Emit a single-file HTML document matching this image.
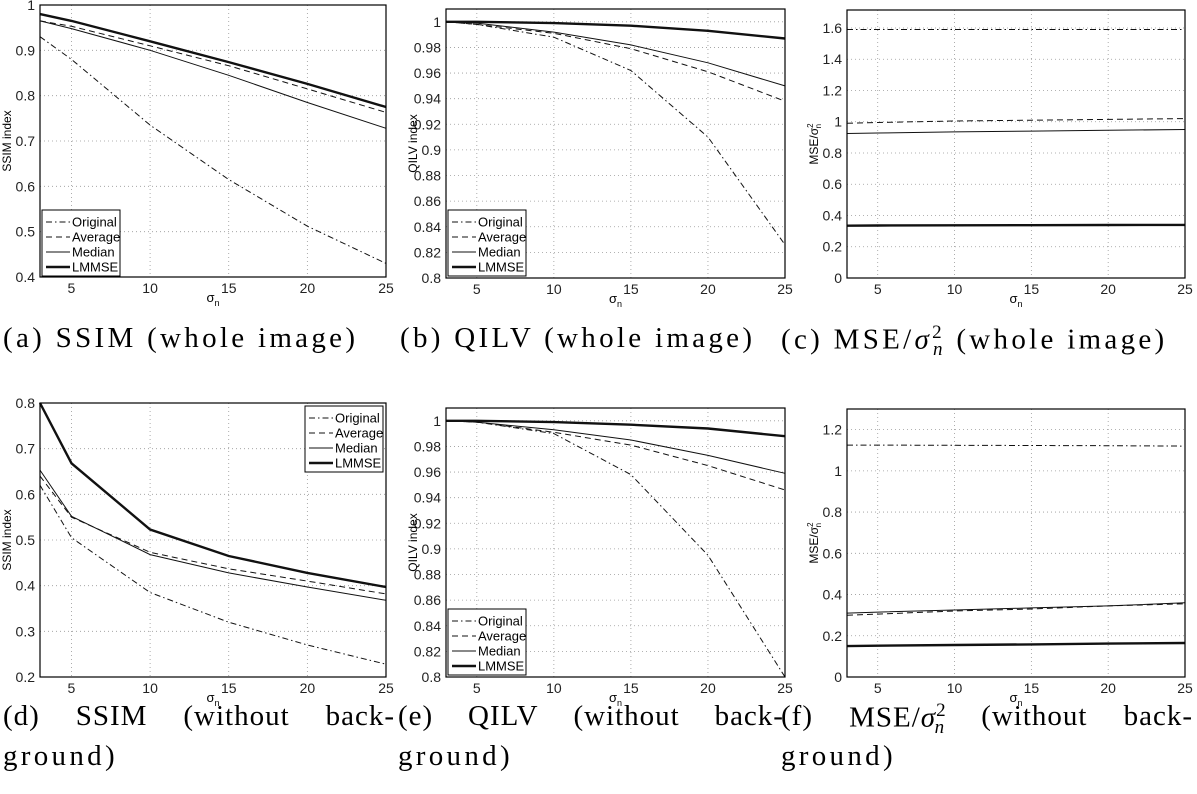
<!DOCTYPE html>
<html><head><meta charset="utf-8">
<style>
body{margin:0;background:#fff;width:1197px;height:794px;overflow:hidden;position:relative;font-family:"Liberation Sans",sans-serif}
svg{position:absolute;left:0;top:0}
.cap{position:absolute;font-family:"Liberation Serif",serif;font-size:29px;letter-spacing:3.3px;color:#000;white-space:nowrap}
.just{display:flex;justify-content:space-between;letter-spacing:1px}
</style></head><body>
<svg id="chart" width="1197" height="794"></svg>
<div class="cap" style="left:3px;top:322px">(a) SSIM (whole image)</div>
<div class="cap" style="left:400px;top:322px">(b) QILV (whole image)</div>
<div class="cap" style="left:781px;top:322px">(c) MSE/<i>σ</i><sup style="font-size:19px">2</sup><sub style="font-size:19px;margin-left:-12px"><i>n</i></sub> (whole image)</div>
<div class="cap just" style="left:3px;top:700px;width:392px"><span>(d)</span><span>SSIM</span><span>(without</span><span>back-</span></div>
<div class="cap" style="left:3px;top:740px">ground)</div>
<div class="cap just" style="left:398px;top:700px;width:386px"><span>(e)</span><span>QILV</span><span>(without</span><span>back-</span></div>
<div class="cap" style="left:398px;top:740px">ground)</div>
<div class="cap just" style="left:781px;top:700px;width:412px"><span>(f)</span><span>MSE/<i>σ</i><sup style="font-size:19px">2</sup><sub style="font-size:19px;margin-left:-12px"><i>n</i></sub></span><span>(without</span><span>back-</span></div>
<div class="cap" style="left:781px;top:740px">ground)</div>
<script>
const sigma = [3,5,10,15,20,25];
const seriesNames = ["Original","Average","Median","LMMSE"];
const xTicks = [5,10,15,20,25];
// (a)
const aOriginal = [0.93,0.88,0.735,0.615,0.512,0.43];
const aAverage  = [0.965,0.953,0.91,0.866,0.815,0.763];
const aMedian   = [0.965,0.948,0.9,0.845,0.785,0.728];
const aLmmse    = [0.98,0.965,0.92,0.874,0.826,0.775];
const aTicks = [0.4,0.5,0.6,0.7,0.8,0.9,1];
// (b)
const bOriginal = [1.0,0.998,0.988,0.962,0.91,0.826];
const bAverage  = [1.0,0.998,0.991,0.979,0.961,0.938];
const bMedian   = [1.0,0.999,0.992,0.982,0.968,0.95];
const bLmmse    = [1.0,1.0,0.999,0.997,0.993,0.987];
const bTicks = [0.8,0.82,0.84,0.86,0.88,0.9,0.92,0.94,0.96,0.98,1];
// (c)
const cOriginal = [1.59,1.59,1.59,1.59,1.59,1.59];
const cAverage  = [0.99,0.995,1.005,1.01,1.015,1.02];
const cMedian   = [0.925,0.928,0.935,0.94,0.945,0.95];
const cLmmse    = [0.335,0.336,0.337,0.338,0.339,0.34];
const cTicks = [0,0.2,0.4,0.6,0.8,1,1.2,1.4,1.6];
// (d)
const dOriginal = [0.62,0.505,0.385,0.32,0.27,0.228];
const dAverage  = [0.64,0.55,0.473,0.437,0.41,0.382];
const dMedian   = [0.653,0.552,0.468,0.428,0.397,0.368];
const dLmmse    = [0.8,0.668,0.523,0.465,0.428,0.397];
const dTicks = [0.2,0.3,0.4,0.5,0.6,0.7,0.8];
// (e)
const eOriginal = [1.0,0.999,0.99,0.958,0.895,0.8];
const eAverage  = [1.0,0.999,0.991,0.981,0.965,0.946];
const eMedian   = [1.0,0.999,0.993,0.985,0.973,0.959];
const eLmmse    = [1.0,1.0,0.999,0.997,0.994,0.988];
const eTicks = bTicks;
// (f)
const fOriginal = [1.125,1.125,1.124,1.123,1.122,1.12];
const fAverage  = [0.3,0.305,0.32,0.33,0.345,0.355];
const fMedian   = [0.31,0.315,0.325,0.335,0.345,0.36];
const fLmmse    = [0.15,0.152,0.155,0.158,0.162,0.165];
const fTicks = [0,0.2,0.4,0.6,0.8,1,1.2];

const NS="http://www.w3.org/2000/svg";
const svg=document.getElementById('chart');
function mk(tag,attrs,parent){const e=document.createElementNS(NS,tag);for(const k in attrs)e.setAttribute(k,attrs[k]);(parent||svg).appendChild(e);return e;}
const styles=[{d:"6,3,1.5,3",w:1},{d:"6,4",w:1},{d:"",w:1},{d:"",w:2.4}];

function panel(id,box,ymin,ymax,yTicks,ylabel,data,legend){
  const g=mk('g',{});
  
  
  const xS=v=>box.l+(v-3)/(25-3)*(box.r-box.l);
  const yS=v=>box.b-(v-ymin)/(ymax-ymin)*(box.b-box.t);
  xTicks.forEach(t=>{
    const x=xS(t);
    const gl=mk('line',{x1:x,x2:x,y1:box.t,y2:box.b,stroke:'#999','stroke-width':0.8,'stroke-dasharray':'1,3'},g);
    
    
    const tx=mk('text',{x:x,y:box.b+16,'font-size':14,'text-anchor':'middle',fill:'#222'},g);
    tx.textContent=t;
    
    
  });
  yTicks.forEach(t=>{
    const y=yS(t);
    const gl=mk('line',{x1:box.l,x2:box.r,y1:y,y2:y,stroke:'#999','stroke-width':0.8,'stroke-dasharray':'1,3'},g);
    
    
    const tx=mk('text',{x:box.l-5,y:y+5,'font-size':14,'text-anchor':'end',fill:'#222'},g);
    tx.textContent=String(t);
    
    
  });
  data.forEach((arr,i)=>{
    const pts=arr.map((v,j)=>xS(sigma[j]).toFixed(1)+','+yS(v).toFixed(1)).join(' ');
    const p=mk('polyline',{points:pts,fill:'none',stroke:'#111','stroke-width':styles[i].w,'stroke-dasharray':styles[i].d},g);
    
    
  });
  const fr=mk('rect',{x:box.l,y:box.t,width:box.r-box.l,height:box.b-box.t,fill:'none',stroke:'#000','stroke-width':1.2},g);
  
  
  const xl=mk('text',{x:(box.l+box.r)/2,y:box.b+25,'font-size':13,'text-anchor':'middle'},g);
  xl.innerHTML='σ<tspan font-size="9" dy="4">n</tspan>';
  
  
  const cy=(box.t+box.b)/2, lx=box.l-29;
  const yl=mk('text',{x:lx,y:cy,'font-size':12,'text-anchor':'middle',transform:`rotate(-90 ${lx} ${cy})`},g);
  yl.innerHTML=ylabel;
  
  
  if(legend){
    const lg=mk('g',{},g);
    
    
    mk('rect',{x:legend.x,y:legend.y,width:legend.w,height:66,fill:'#fff',stroke:'#000','stroke-width':1},lg);
    seriesNames.forEach((n,i)=>{
      const yy=legend.y+12+i*15;
      const ln=mk('line',{x1:legend.x+4,x2:legend.x+28,y1:yy,y2:yy,stroke:'#111','stroke-width':styles[i].w,'stroke-dasharray':styles[i].d},lg);
      
      
      const t=mk('text',{x:legend.x+30,y:yy+4.5,'font-size':13},lg);
      t.textContent=n;
      
      
    });
  }
}
const mseLab='MSE/σ<tspan font-size="8" dy="-5">2</tspan><tspan font-size="8" dx="-5" dy="8">n</tspan>';
panel('a',{l:40,r:386,t:5,b:277},0.4,1,aTicks,'SSIM index',[aOriginal,aAverage,aMedian,aLmmse],{x:42,y:210,w:78});
panel('b',{l:446,r:785,t:9,b:278},0.8,1.01,bTicks,'QILV index',[bOriginal,bAverage,bMedian,bLmmse],{x:448,y:210,w:78});
panel('c',{l:847,r:1185,t:10,b:278},0,1.715,cTicks,mseLab,[cOriginal,cAverage,cMedian,cLmmse],null);
panel('d',{l:40,r:386,t:403,b:677},0.2,0.8,dTicks,'SSIM index',[dOriginal,dAverage,dMedian,dLmmse],{x:305,y:406,w:78});
panel('e',{l:446,r:785,t:408,b:677},0.8,1.01,eTicks,'QILV index',[eOriginal,eAverage,eMedian,eLmmse],{x:448,y:609,w:78});
panel('f',{l:847,r:1185,t:409,b:677},0,1.3,fTicks,mseLab,[fOriginal,fAverage,fMedian,fLmmse],null);
</script>
</body></html>
